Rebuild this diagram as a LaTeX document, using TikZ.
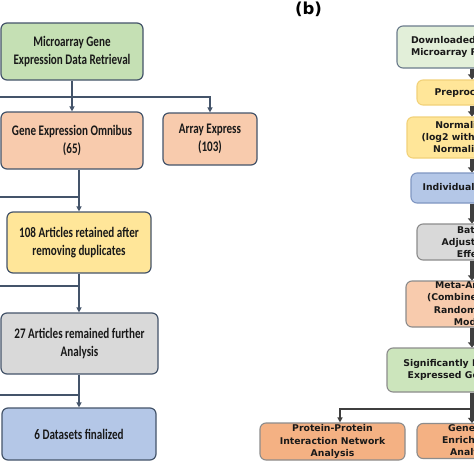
\documentclass[tikz,border=0pt]{standalone}
\usepackage{fontspec}
\usepackage{tikz}
\usetikzlibrary{calc,arrows.meta}
\newfontfamily\panelafont[FakeStretch=0.76]{Carlito}
\newfontfamily\panelbfont{DejaVu Sans}
\definecolor{edgeslate}{HTML}{44546A}
\definecolor{retgreen}{HTML}{C5E0B4}
\definecolor{dbsalmon}{HTML}{F8CBAD}
\definecolor{keptyellow}{HTML}{FFE699}
\definecolor{restgray}{HTML}{D9D9D9}
\definecolor{finalblue}{HTML}{B4C7E7}
\definecolor{rawgreen}{HTML}{E2EFD9}
\definecolor{rawedge}{HTML}{6B7B8C}
\definecolor{softedge}{HTML}{8C8C8C}
\definecolor{yellowedge}{HTML}{F2D27A}
\definecolor{blueedge}{HTML}{7F96C2}
\definecolor{sigreen}{HTML}{CCE5BC}
\definecolor{anaorange}{HTML}{F4B183}
\definecolor{flowgray}{HTML}{3F3F3F}
\tikzstyle{leftbox}    = [rectangle, rounded corners=6pt, draw=edgeslate, line width=1.2pt, inner sep=0pt, align=center, text=black!90, font={\panelafont\bfseries\fontsize{14.6}{18.3}\selectfont}]
\tikzstyle{rightbox}   = [rectangle, rounded corners=6pt, draw=softedge, line width=1.1pt, inner sep=0pt, align=center, text=black!90, font={\panelbfont\bfseries\fontsize{9.3}{12.2}\selectfont}]
\tikzstyle{leftline}   = [line width=1.6pt, draw=edgeslate]
\tikzstyle{leftarrow}  = [leftline, -{Triangle[length=5pt,width=5pt]}]
\tikzstyle{flowarrow}  = [line width=3.5pt, draw=flowgray, -{Triangle[length=5pt,width=8pt]}]
\tikzstyle{thinarrow}  = [line width=1.4pt, draw=flowgray, -{Triangle[length=5pt,width=5pt]}]

\begin{document}
\begin{tikzpicture}[x=1pt,y=-1pt]
        \path[use as bounding box, fill=white] (0,0) rectangle (474,474);

        % (a) retrieval of the datasets
        \node[leftbox, fill=retgreen, minimum width=142pt, minimum height=57pt] (retrieval) at (72,51.5) {Microarray Gene\\Expression Data Retrieval};
        \node[leftbox, fill=dbsalmon, minimum width=142pt, minimum height=57pt] (geo) at (72,140.5) {Gene Expression Omnibus\\(65)};
        \node[leftbox, fill=dbsalmon, minimum width=94pt, minimum height=52pt] (arrayexp) at (210,139) {Array Express\\(103)};
        \node[leftbox, fill=keptyellow, minimum width=144pt, minimum height=61pt] (kept) at (79,242.5) {108 Articles retained after\\removing duplicates};
        \node[leftbox, fill=restgray, minimum width=157pt, minimum height=61pt] (remain) at (79.5,343.5) {27 Articles remained further\\Analysis};
        \node[leftbox, fill=finalblue, minimum width=154pt, minimum height=52pt] (final) at (79,434) {6 Datasets finalized};

        \coordinate (split1) at (72,97);
        \coordinate (out1) at (-20,97);
        \coordinate (split2) at (79,197);
        \coordinate (out2) at (-20,197);
        \coordinate (split3) at (79,286);
        \coordinate (out3) at (-20,286);
        \coordinate (split4) at (79,395);
        \coordinate (out4) at (-20,395);

        \draw[leftline] (retrieval.south) -- (split1);
        \draw[leftarrow] (split1) -- (geo.north);
        \draw[leftarrow] (out1) -| (arrayexp.north);
        \draw[leftarrow] (geo.south -| kept.north) -- (kept.north);
        \draw[leftline] (out2) -- (split2);
        \draw[leftarrow] (kept.south) -- (kept.south |- remain.north);
        \draw[leftline] (out3) -- (split3);
        \draw[leftarrow] (remain.south -| final.north) -- (final.north);
        \draw[leftline] (out4) -- (split4);

        % (b) analysis pipeline
        \node[font={\panelbfont\bfseries\fontsize{16.5}{18}\selectfont}] (panelb) at (308.5,9.5) {(b)};

        \node[rightbox, fill=rawgreen, draw=rawedge, minimum width=150pt, minimum height=42pt, align=left, text width=122pt] (raw) at (472,47) {Downloaded\\Microarray Raw};
        \node[rightbox, fill=keptyellow, draw=yellowedge, minimum width=110pt, minimum height=25pt] (prep) at (472,92.5) {Preprocessing};
        \node[rightbox, fill=keptyellow, draw=yellowedge, minimum width=130pt, minimum height=41pt] (norm) at (472,137.5) {Normalization\\(log2 with Quantile\\Normalization)};
        \node[rightbox, fill=finalblue, draw=blueedge, minimum width=122pt, minimum height=30pt] (indiv) at (472,188) {Individual Analysis};
        \node[rightbox, fill=restgray, minimum width=110pt, minimum height=36pt] (batch) at (472,242) {Batch\\Adjustment\\Effect};
        \node[rightbox, fill=dbsalmon, minimum width=132pt, minimum height=46pt] (meta) at (472,304) {Meta-Analysis\\(Combined Effect\\Random Effect\\Model)};
        \node[rightbox, fill=sigreen, minimum width=170pt, minimum height=44pt] (sig) at (472,370) {Significantly Differentially\\Expressed Genes (DEGs)};
        \node[rightbox, fill=anaorange, minimum width=145pt, minimum height=37pt] (ppi) at (332.5,441.5) {Protein-Protein\\Interaction Network\\Analysis};
        \node[rightbox, fill=anaorange, minimum width=110pt, minimum height=35pt] (gsea) at (472,441) {Gene Set\\Enrichment\\Analysis};

        \coordinate (branch) at (472,409);

        \draw[flowarrow] (raw.south) -- (prep.north);
        \draw[flowarrow] (prep.south) -- (norm.north);
        \draw[flowarrow] (norm.south) -- (indiv.north);
        \draw[flowarrow] (indiv.south) -- (batch.north);
        \draw[flowarrow] (batch.south) -- (meta.north);
        \draw[flowarrow] (meta.south) -- (sig.north);
        \draw[flowarrow] (sig.south) -- (gsea.north);
        \draw[thinarrow] (branch) -| ([xshift=7.5pt]ppi.north);
    \end{tikzpicture}
\end{document}
